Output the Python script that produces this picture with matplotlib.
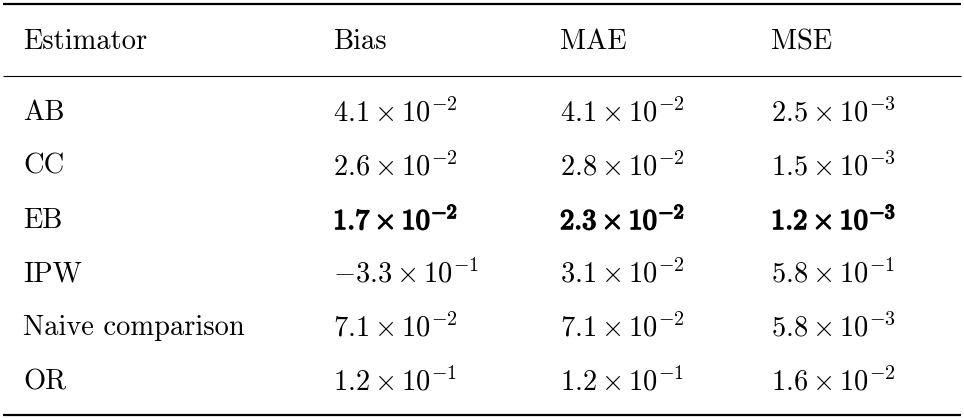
import matplotlib
matplotlib.use("Agg")
import matplotlib.pyplot as plt
import matplotlib.patheffects as pe

plt.rcParams['mathtext.fontset'] = 'cm'
plt.rcParams['font.family'] = 'cmr10'

headers = ["Estimator", "Bias", "MAE", "MSE"]
estimators = ["AB", "CC", "EB", "IPW", "Naive comparison", "OR"]
bias = [(4.1, -2), (2.6, -2), (1.7, -2), (-3.3, -1), (7.1, -2), (1.2, -1)]
mae = [(4.1, -2), (2.8, -2), (2.3, -2), (3.1, -2), (7.1, -2), (1.2, -1)]
mse = [(2.5, -3), (1.5, -3), (1.2, -3), (5.8, -1), (5.8, -3), (1.6, -2)]
bold_row = "EB"

W, H = 964, 418
fig = plt.figure(figsize=(W/100, H/100), dpi=100)
ax = fig.add_axes([0, 0, 1, 1])
ax.set_xlim(0, W); ax.set_ylim(H, 0); ax.axis('off')

colx = [23, 333, 560, 771]
fs = 20.5

def fmt(v):
    m, e = v
    return rf"${m:.1f}\times10^{{{e}}}$"

ax.plot([3, 961], [3.5, 3.5], color='k', lw=1.6, solid_capstyle='butt')
ax.plot([3, 961], [76, 76], color='k', lw=0.8, solid_capstyle='butt')
ax.plot([3, 961], [414.5, 414.5], color='k', lw=1.6, solid_capstyle='butt')

for x, h in zip(colx, headers):
    ax.text(x, 42, h, fontsize=fs, va='center', ha='left')

y0, dy = 113, 53.8
bold_fx = [pe.withStroke(linewidth=1.1, foreground='k')]
for i, name in enumerate(estimators):
    y = y0 + i*dy
    b = name == bold_row
    ax.text(colx[0], y, name, fontsize=fs, va='center', ha='left')
    for x, v in zip(colx[1:], (bias[i], mae[i], mse[i])):
        t = ax.text(x, y, fmt(v), fontsize=fs, va='center', ha='left')
        if b:
            t.set_path_effects(bold_fx)

fig.savefig("out.png", dpi=100)
